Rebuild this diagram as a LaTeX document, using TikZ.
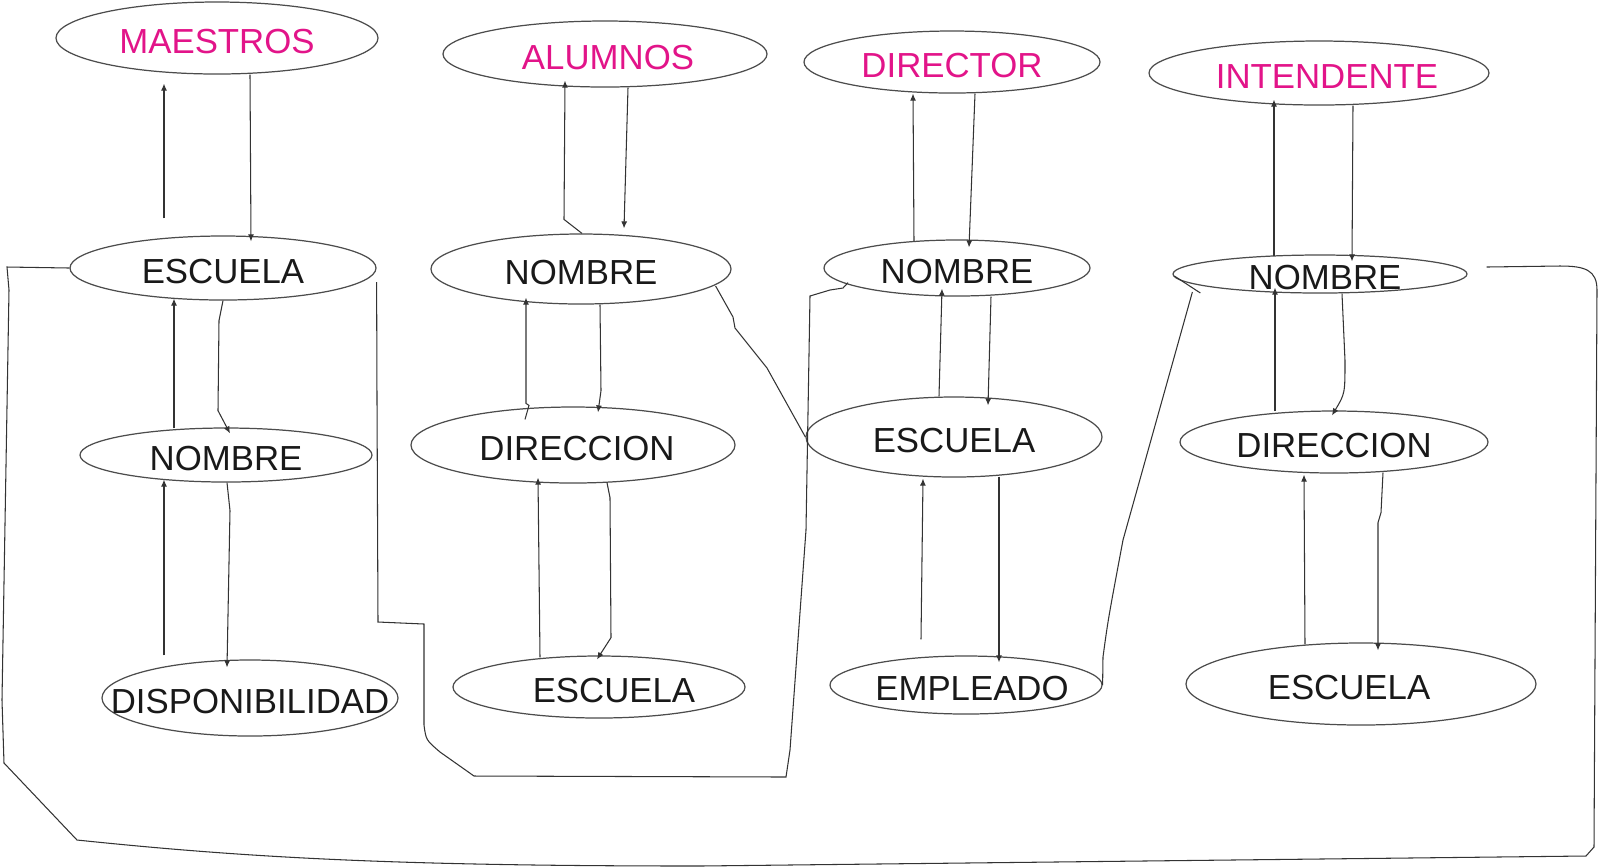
\documentclass[tikz,border=0pt]{standalone}
\usepackage{fontspec}
\setmainfont{Liberation Sans}
\usepackage{tikz}
\usetikzlibrary{shapes.geometric,arrows.meta,calc}
\definecolor{titulo}{RGB}{226,20,137}
\newcommand{\etq}[2][0pt]{\makebox[0pt]{\hspace*{#1}\raisebox{-0.35mm}[\height][\depth]{#2}}}

\begin{document}
\begin{tikzpicture}[x=0.1mm, y=-0.1mm,
    attr/.style={ellipse, draw=black!70, line width=0.35pt, inner sep=0pt,
                 font=\fontsize{9.9}{11}\selectfont, text=black!90},
    ent/.style={attr, text=titulo},
    arr/.style={-{Latex[length=0.7mm,width=0.6mm]}, black!80, line width=0.3pt},
    wire/.style={black!80, line width=0.3pt}]

    \useasboundingbox (0,0) rectangle (1600,867);

    % Maestros
    \node[ent, minimum width=32.2mm, minimum height=7.2mm] (mae) at (217,38) {\etq{MAESTROS}};
    \node[attr, minimum width=30.6mm, minimum height=6.4mm] (esc1) at (223,268) {\etq{ESCUELA}};
    \node[attr, minimum width=29.2mm, minimum height=5.4mm] (nom1) at (226,455) {\etq{NOMBRE}};
    \node[attr, minimum width=29.6mm, minimum height=7.6mm] (disp) at (250,698) {\etq{DISPONIBILIDAD}};
    % Alumnos
    \node[ent, minimum width=32.4mm, minimum height=6.6mm] (alu) at (605,54) {\etq[0.6mm]{ALUMNOS}};
    \node[attr, minimum width=30.0mm, minimum height=7.0mm] (nom2) at (581,269) {\etq{NOMBRE}};
    \node[attr, minimum width=32.4mm, minimum height=7.6mm] (dir2) at (573,445) {\etq[0.8mm]{DIRECCION}};
    \node[attr, minimum width=29.2mm, minimum height=6.2mm] (esc2) at (599,687) {\etq[3mm]{ESCUELA}};
    % Director
    \node[ent, minimum width=29.6mm, minimum height=6.2mm] (dtor) at (952,62) {\etq{DIRECTOR}};
    \node[attr, minimum width=26.6mm, minimum height=5.6mm] (nom3) at (957,268) {\etq{NOMBRE}};
    \node[attr, minimum width=29.6mm, minimum height=8.0mm] (esc3) at (954,437) {\etq{ESCUELA}};
    \node[attr, minimum width=27.2mm, minimum height=5.8mm] (emp) at (966,685) {\etq[1.2mm]{EMPLEADO}};
    % Intendente
    \node[ent, minimum width=34.0mm, minimum height=6.4mm] (int) at (1319,73) {\etq[1.6mm]{INTENDENTE}};
    \node[attr, minimum width=29.4mm, minimum height=3.8mm] (nom4) at (1320,274) {\etq[1mm]{NOMBRE}};
    \node[attr, minimum width=30.8mm, minimum height=6.2mm] (dir4) at (1334,442) {\etq{DIRECCION}};
    \node[attr, minimum width=35.0mm, minimum height=8.2mm] (esc4) at (1361,684) {\etq[-2.4mm]{ESCUELA}};

    % flechas columna 1
    \draw[arr] ($(esc1.north)+(-59,-17)$) -- ($(mae.south)+(-53,9)$);
    \draw[arr] ($(mae.south)+(33,0)$) -- ($(esc1.north)+(28,6)$);
    \draw[arr] ($(nom1.north)+(-52,1)$) -- ($(esc1.south)+(-49,-2)$);
    \draw[arr] (esc1.south) -- ++(-4,20) -- ++(-1,90) -- ($(nom1.north)+(4,6)$);
    \draw[arr] ($(disp.north)+(-86,-4)$) -- ($(nom1.south)+(-62,-3)$);
    \draw[arr] ($(nom1.south)+(1,0)$) -- ++(3,28) -- ($(disp.north)+(-23,8)$);
    % flechas columna 2
    \draw[arr] ($(nom2.north)+(1,0)$) -- ++(-18,-14) -- ($(alu.south)+(-40,-7)$);
    \draw[arr] ($(alu.south)+(23,0)$) -- ($(nom2.north)+(43,-5)$);
    \draw[arr] ($(dir2.north)+(-48,13)$) -- ++(4,-14) -- ++(-3,-2) -- ($(nom2.south)+(-55,-7)$);
    \draw[arr] ($(nom2.south)+(19,0)$) -- ++(1,86) -- ($(dir2.north)+(25,6)$);
    \draw[arr] ($(esc2.north)+(-59,2)$) -- ($(dir2.south)+(-35,-6)$);
    \draw[arr] ($(dir2.south)+(34,-1)$) -- ++(3,15) -- ++(1,140) -- ($(esc2.north)+(-2,4)$);
    % flechas columna 3
    \draw[arr] ($(nom3.north)+(-43,2)$) -- ($(dtor.south)+(-39,0)$);
    \draw[arr] ($(dtor.south)+(23,0)$) -- ($(nom3.north)+(12,8)$);
    \draw[arr] ($(esc3.north)+(-15,0)$) -- ($(nom3.south)+(-15,-8)$);
    \draw[arr] ($(nom3.south)+(34,0)$) -- ($(esc3.north)+(34,9)$);
    \draw[arr] ($(emp.north)+(-45,-16)$) -- ($(esc3.south)+(-31,1)$);
    \draw[arr] ($(esc3.south)+(45,-1)$) -- ($(emp.north)+(33,7)$);
    % flechas columna 4
    \draw[arr] ($(nom4.north)+(-46,2)$) -- ($(int.south)+(-45,-6)$);
    \draw[arr] ($(int.south)+(34,0)$) -- ($(nom4.north)+(32,7)$);
    \draw[arr] ($(dir4.north)+(-59,1)$) -- ($(nom4.south)+(-45,-6)$);
    \draw[arr] ($(nom4.south)+(22,0)$) -- ($(nom4.south)+(25,67)$)
        .. controls ($(nom4.south)+(25,100)$) .. ($(dir4.north)+(-2,5)$);
    \draw[arr] ($(esc4.north)+(-56,2)$) -- ($(dir4.south)+(-30,1)$);
    \draw[arr] ($(dir4.south)+(49,-1)$) -- ++(-2,40) -- ++(-3,10) -- ($(esc4.north)+(17,8)$);

    % lineas de relacion
    \coordinate (colaA) at ($(nom4.east)+(19,-7)$);
    \draw[wire] (esc1.west) -- (7,267) -- (9,290) -- (2,700) -- (4,763) -- (77,840)
        .. controls (250,858) and (400,866) .. (700,866) -- (1586,856) -- (1594,847)
        -- (1597,290) .. controls (1597,270) and (1585,266) .. (1560,266) -- (colaA);
    \draw[wire] ($(esc1.east)+(0,14)$) -- (377,400) -- (378,622) -- (424,624) -- (424,725)
        .. controls (426,740) .. (440,752) -- (474,776) -- (786,777) -- (790,750)
        -- (806,530) -- (810,296) -- (830,290) -- (843,288) -- ($(nom3.south)+(-109,-14)$);
    \draw[wire] ($(nom2.east)+(-16,17)$) -- (733,317) -- (735,328) -- (767,368) -- (esc3.west);
    \draw[wire] (emp.east) -- (1103,657) .. controls (1108,620) .. (1123,540)
        -- ($(nom4.west)+(20,18)$);
    \draw[wire] ($(nom4.west)+(2,2)$) -- ($(nom4.west)+(28,19)$);
\end{tikzpicture}
\end{document}
